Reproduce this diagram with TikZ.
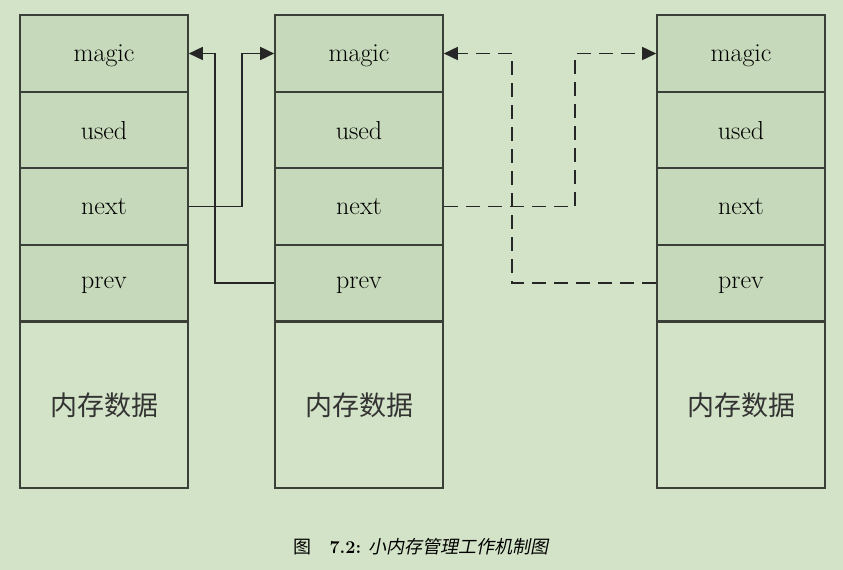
\documentclass[tikz,border=0pt]{standalone}
\usepackage{fontspec}
\newfontfamily\cjk{Noto Sans CJK SC}
\usetikzlibrary{arrows.meta}
\definecolor{bg}{HTML}{D3E3C7}
\definecolor{cell}{HTML}{C6D9BA}
\definecolor{ln}{HTML}{3A3F38}
\begin{document}
\begin{tikzpicture}[x=1pt,y=-1pt,
  cellbox/.style={draw=ln,line width=1.6pt,fill=cell,minimum width=168pt,minimum height=76.5pt,inner sep=0pt,text depth=0pt,font=\fontsize{26}{26}\selectfont},
  databox/.style={draw=ln,line width=1.6pt,fill=bg,minimum width=168pt,minimum height=166pt,inner sep=0pt,font=\cjk\fontsize{27}{27}\selectfont\color{black!80}},
  link/.style={draw=black!85,line width=1.6pt,-{Triangle[length=14pt,width=13pt]}},
  dlink/.style={link,dash pattern=on 14pt off 8pt}]
\fill[bg] (0,0) rectangle (843,570);
\useasboundingbox (0,0) rectangle (843,570);
\foreach \c/\x in {a/104,b/359,c/741}{
  \node[cellbox] (\c1) at (\x,53.5) {magic};
  \node[cellbox] (\c2) at (\x,130) {used};
  \node[cellbox] (\c3) at (\x,206.5) {next};
  \node[cellbox] (\c4) at (\x,283) {prev};
  \node[databox] (\c5) at (\x,405) {内存数据};
}
\coordinate (s1) at (242,0); \coordinate (s2) at (215,0);
\coordinate (s3) at (575,0); \coordinate (s4) at (512,0);
\draw[link] (a3.east) -- (s1 |- a3.east) -- (s1 |- b1.west) -- (b1.west);
\draw[link] (b4.west) -- (s2 |- b4.west) -- (s2 |- a1.east) -- (a1.east);
\draw[dlink] (b3.east) -- (s3 |- b3.east) -- (s3 |- c1.west) -- (c1.west);
\draw[dlink] (c4.west) -- (s4 |- c4.west) -- (s4 |- b1.east) -- (b1.east);
\node[font=\fontsize{18}{18}\selectfont] (cap) at (421,547) {{\cjk 图}\quad\textbf{7.2:} {\cjk\addfontfeature{FakeSlant=0.2} 小内存管理工作机制图}};
\end{tikzpicture}
\end{document}
